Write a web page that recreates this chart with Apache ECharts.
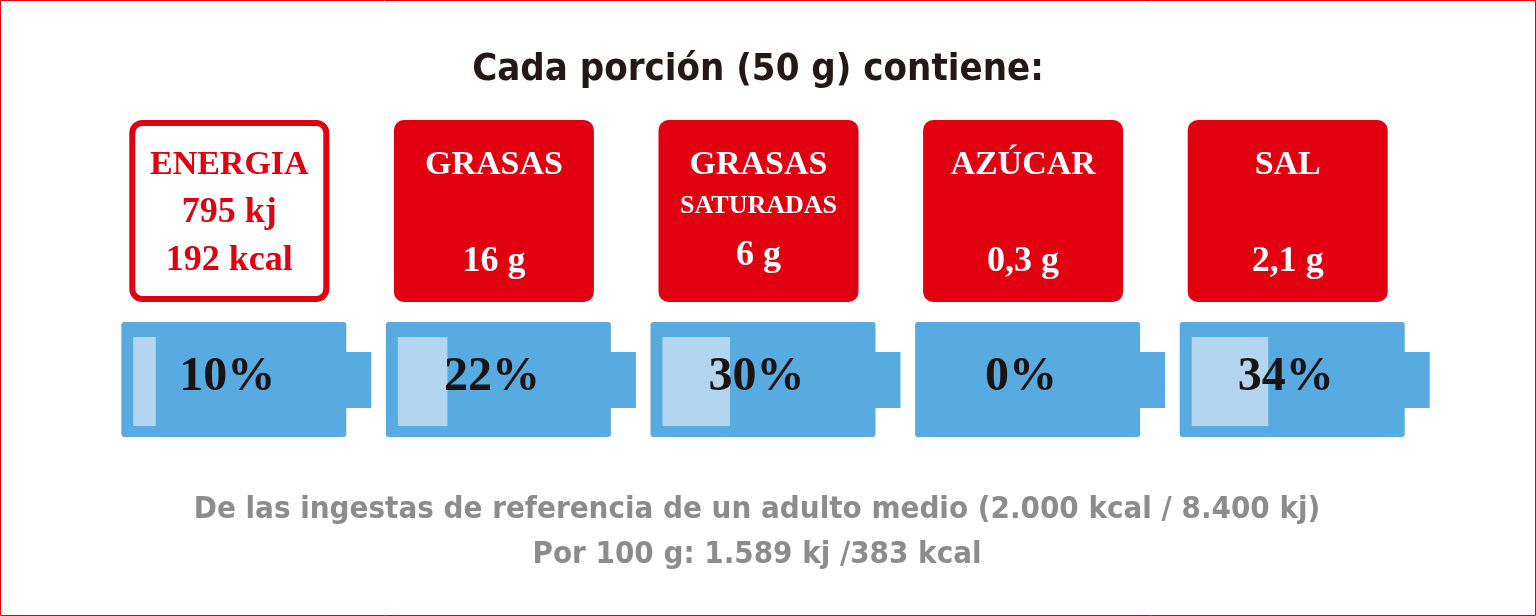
<!DOCTYPE html>
<html><head><meta charset="utf-8">
<script src="https://cdn.jsdelivr.net/npm/echarts@6/dist/echarts.min.js"></script>
<style>html,body{margin:0;padding:0;background:#fff}#c{width:1536px;height:616px}</style>
</head><body><div id="c"></div>
<script>
// datos
var categories = ['ENERGIA', 'GRASAS', 'GRASAS SATURADAS', 'AZÚCAR', 'SAL'];
var amounts = ['795 kj\n192 kcal', '16 g', '6 g', '0,3 g', '2,1 g'];
var percents = [10, 22, 30, 0, 34];

var RED = '#e1000f', BLUE = '#58abe0', LIGHT = '#b4d5ef';
var chart = echarts.init(document.getElementById('c'));

function renderItem(params, api) {
  var i = api.value(0), pct = api.value(1);
  var cx = api.coord([i, 0])[0];
  var boxL = cx - 100, bodyL = cx - 108, bodyW = 225;
  var els = [];
  // caja
  if (i === 0) {
    els.push({type: 'rect', shape: {x: boxL + 3, y: 123, width: 194, height: 176, r: 10},
      style: {fill: '#fff', stroke: RED, lineWidth: 6}});
  } else {
    els.push({type: 'rect', shape: {x: boxL, y: 120, width: 200, height: 182, r: 10}, style: {fill: RED}});
  }
  var tc = i === 0 ? RED : '#fff';
  var serif = '"Liberation Serif", "DejaVu Serif", serif';
  function t(txt, y, size) {
    els.push({type: 'text', style: {text: txt, x: cx, y: y, fill: tc, font: 'bold ' + size + 'px ' + serif, align: 'center', verticalAlign: 'middle'}});
  }
  if (i === 0) {
    var ls = amounts[0].split('\n');
    t('ENERGIA', 165, 34); t(ls[0], 213, 36); t(ls[1], 261, 36);
  } else if (i === 2) {
    t('GRASAS', 165, 34); t('SATURADAS', 206, 26); t(amounts[i], 256, 36);
  } else {
    t(categories[i], 165, 34); t(amounts[i], 262, 36);
  }
  // bateria
  els.push({type: 'rect', shape: {x: bodyL, y: 322, width: bodyW, height: 115, r: 3}, style: {fill: BLUE}});
  els.push({type: 'rect', shape: {x: bodyL + bodyW - 2, y: 352, width: 27, height: 56}, style: {fill: BLUE}});
  if (pct > 0) {
    els.push({type: 'rect', shape: {x: bodyL + 12, y: 337, width: bodyW * pct / 100, height: 89}, style: {fill: LIGHT}});
  }
  els.push({type: 'text', style: {text: pct + '%', x: cx - 2, y: 378, fill: '#1a1311', font: 'bold 48px ' + serif, align: 'center', verticalAlign: 'middle'}});
  return {type: 'group', children: els};
}

chart.setOption({
  animation: false,
  grid: {left: 97, right: 116, top: 100, bottom: 100},
  xAxis: {type: 'category', data: categories, show: false},
  yAxis: {type: 'value', min: 0, max: 100, show: false},
  graphic: [
    {type: 'rect', shape: {x: 0.5, y: 0.5, width: 1535, height: 615}, style: {fill: 'none', stroke: RED, lineWidth: 1}},
    {type: 'text', style: {text: 'Cada porción (50 g) contiene:', x: 758, y: 70, fill: '#231815', font: 'bold 38px "DejaVu Sans Condensed", sans-serif', align: 'center', verticalAlign: 'middle'}},
    {type: 'text', style: {text: 'De las ingestas de referencia de un adulto medio (2.000 kcal / 8.400 kj)', x: 757, y: 510, fill: '#8c8c8c', font: 'bold 31px "DejaVu Sans Condensed", sans-serif', align: 'center', verticalAlign: 'middle'}},
    {type: 'text', style: {text: 'Por 100 g: 1.589 kj /383 kcal', x: 757, y: 555, fill: '#8c8c8c', font: 'bold 31px "DejaVu Sans Condensed", sans-serif', align: 'center', verticalAlign: 'middle'}}
  ],
  series: [{
    type: 'custom',
    renderItem: renderItem,
    data: percents.map(function (p, i) { return [i, p]; })
  }]
});
</script></body></html>
